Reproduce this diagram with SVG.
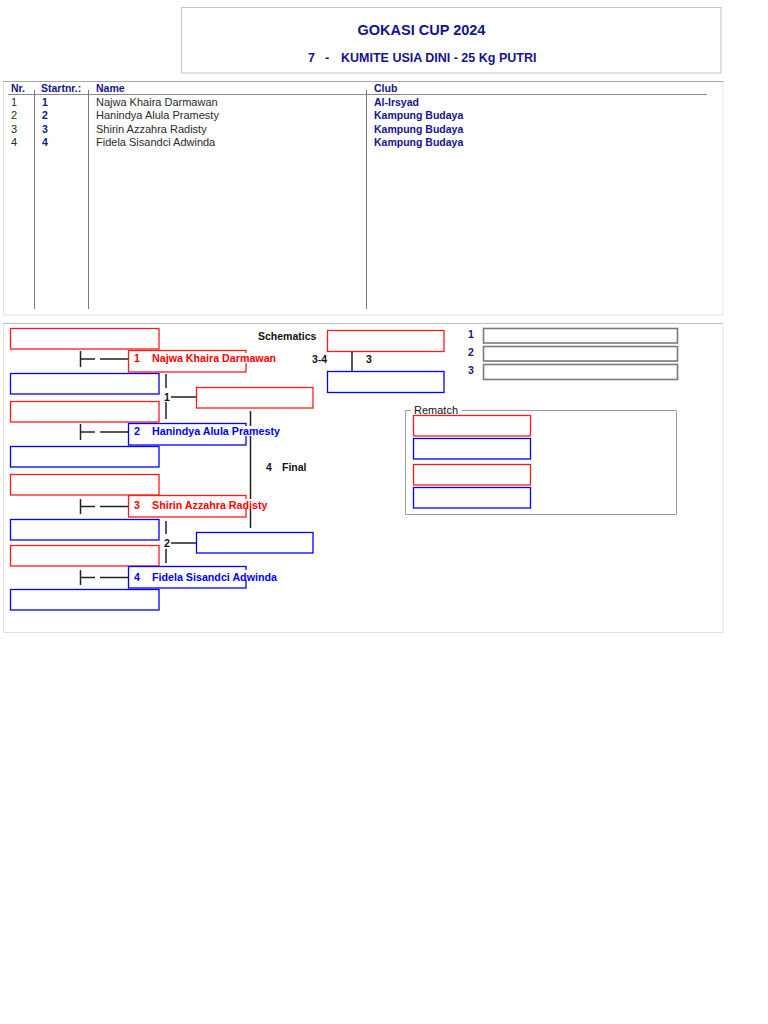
<svg xmlns="http://www.w3.org/2000/svg" width="768" height="1024" viewBox="0 0 768 1024">
<style>
text{font-family:"Liberation Sans",Arial,sans-serif;}
.title{font-size:14.5px;font-weight:bold;fill:#14148c;}
.sub{font-size:12.5px;font-weight:bold;fill:#14148c;}
.th{font-size:10.5px;font-weight:bold;fill:#14148c;}
.td{font-size:11px;fill:#2a2a2a;}
.tb{font-size:10.5px;font-weight:bold;fill:#14148c;}
.lbl{font-size:10.5px;font-weight:bold;fill:#111;}
.nr{font-size:10.7px;font-weight:bold;fill:#ff0000;}
.nb{font-size:10.7px;font-weight:bold;fill:#0000ff;}
.red{fill:#fff;stroke:#ff1a1a;stroke-width:1.3;}
.blue{fill:#fff;stroke:#0000ff;stroke-width:1.3;}
.rank{fill:#fff;stroke:#7a7a7a;stroke-width:1.6;}
.con{fill:none;stroke:#222;stroke-width:1.5;}
.sep{fill:none;stroke:#777;stroke-width:1;}
.wb{fill:#fff;}
</style>

<!-- header -->
<g id="header">
<rect x="181.5" y="7.5" width="539.5" height="65.5" fill="#fff" stroke="#c4c4c4" stroke-width="1"/>
<text class="title" x="421.5" y="35" text-anchor="middle">GOKASI CUP 2024</text>
<text class="sub" x="308" y="62">7</text>
<text class="sub" x="325" y="62">-</text>
<text class="sub" x="341" y="62">KUMITE USIA DINI - 25 Kg PUTRI</text>
</g>

<!-- participant list -->
<g id="list">
<rect x="3.5" y="81.5" width="719.5" height="233.5" fill="#fff" stroke="#e4e4e4" stroke-width="1"/>
<line x1="3" y1="81.5" x2="723" y2="81.5" stroke="#a8a8a8" stroke-width="1.2"/>
<line x1="8" y1="94.5" x2="707" y2="94.5" stroke="#888" stroke-width="1"/>
<line class="sep" x1="34.5" y1="90" x2="34.5" y2="309"/>
<line class="sep" x1="88.5" y1="90" x2="88.5" y2="309"/>
<line class="sep" x1="366.5" y1="90" x2="366.5" y2="309"/>
<text class="th" x="11" y="92">Nr.</text>
<text class="th" x="41" y="92">Startnr.:</text>
<text class="th" x="96" y="92">Name</text>
<text class="th" x="374" y="92">Club</text>
<g id="row1"><text class="td" x="11" y="106">1</text><text class="tb" x="42" y="106">1</text><text class="td" x="96" y="106">Najwa Khaira Darmawan</text><text class="tb" x="374" y="106">Al-Irsyad</text></g>
<g id="row2"><text class="td" x="11" y="119">2</text><text class="tb" x="42" y="119">2</text><text class="td" x="96" y="119">Hanindya Alula Pramesty</text><text class="tb" x="374" y="119">Kampung Budaya</text></g>
<g id="row3"><text class="td" x="11" y="133">3</text><text class="tb" x="42" y="133">3</text><text class="td" x="96" y="133">Shirin Azzahra Radisty</text><text class="tb" x="374" y="133">Kampung Budaya</text></g>
<g id="row4"><text class="td" x="11" y="146">4</text><text class="tb" x="42" y="146">4</text><text class="td" x="96" y="146">Fidela Sisandci Adwinda</text><text class="tb" x="374" y="146">Kampung Budaya</text></g>
</g>

<!-- bracket frame -->
<g id="bracket-frame">
<rect x="3.5" y="323.5" width="719.5" height="309" fill="#fff" stroke="#e0e0e0" stroke-width="1"/>
<line x1="3" y1="323.5" x2="723" y2="323.5" stroke="#bdbdbd" stroke-width="1.2"/>
<text class="lbl" x="258" y="340">Schematics</text>
</g>

<!-- connectors -->
<g id="connectors">
<path class="con" d="M80.5 351V367M80.5 359H95M100 359H128"/>
<path class="con" d="M80.5 424V440M80.5 432H95M100 432H128"/>
<path class="con" d="M80.5 499V514M80.5 506.5H95M100 506.5H128"/>
<path class="con" d="M80.5 570V585M80.5 577.5H95M100 577.5H128"/>
<path class="con" d="M166 374V388M166 402V419M171 397H196"/>
<path class="con" d="M166 521V534M166 549V563M171 543H196"/>
<path class="con" d="M250.5 411V528"/>
<path class="con" d="M352 352V371"/>
</g>

<!-- left column boxes -->
<g id="slot1-red"><rect class="red" x="10.5" y="328.5" width="148.5" height="20.5"/></g>
<g id="slot1-blue"><rect class="blue" x="10.5" y="373.5" width="148.5" height="20.5"/></g>
<g id="slot2-red"><rect class="red" x="10.5" y="401.5" width="148.5" height="20.5"/></g>
<g id="slot2-blue"><rect class="blue" x="10.5" y="446.5" width="148.5" height="20.5"/></g>
<g id="slot3-red"><rect class="red" x="10.5" y="474.5" width="148.5" height="20.5"/></g>
<g id="slot3-blue"><rect class="blue" x="10.5" y="519.5" width="148.5" height="20.5"/></g>
<g id="slot4-red"><rect class="red" x="10.5" y="545.5" width="148.5" height="20.5"/></g>
<g id="slot4-blue"><rect class="blue" x="10.5" y="589.5" width="148.5" height="20.5"/></g>

<!-- competitor name boxes -->
<g id="comp1">
<rect class="red" x="128.5" y="350.5" width="117.5" height="21.5"/>
<rect class="wb" x="133" y="353" width="145" height="10"/>
<text class="nr" x="134" y="362">1</text>
<text class="nr" x="152" y="362">Najwa Khaira Darmawan</text>
</g>
<g id="comp2">
<rect class="blue" x="128.5" y="423.5" width="117.5" height="21.5"/>
<rect class="wb" x="133" y="426" width="148" height="10"/>
<text class="nb" x="134" y="435">2</text>
<text class="nb" x="152" y="435">Hanindya Alula Pramesty</text>
</g>
<g id="comp3">
<rect class="red" x="128.5" y="495.5" width="117.5" height="21.5"/>
<rect class="wb" x="133" y="499" width="136" height="10"/>
<text class="nr" x="134" y="508.5">3</text>
<text class="nr" x="152" y="508.5">Shirin Azzahra Radisty</text>
</g>
<g id="comp4">
<rect class="blue" x="128.5" y="566.5" width="117.5" height="21.5"/>
<rect class="wb" x="133" y="570" width="145" height="10"/>
<text class="nb" x="134" y="580.5">4</text>
<text class="nb" x="152" y="580.5">Fidela Sisandci Adwinda</text>
</g>

<!-- winners -->
<g id="match1">
<text class="lbl" x="164" y="400.5">1</text>
<rect class="red" x="196.5" y="387.5" width="116.5" height="20.5"/>
</g>
<g id="match2">
<text class="lbl" x="164" y="546.5">2</text>
<rect class="blue" x="196.5" y="532.5" width="116.5" height="20.5"/>
</g>
<g id="final">
<text class="lbl" x="266" y="471">4</text>
<text class="lbl" x="282" y="471">Final</text>
</g>

<!-- 3-4 -->
<g id="match34">
<text class="lbl" x="312" y="363">3-4</text>
<text class="lbl" x="366" y="363">3</text>
<rect class="red" x="327.5" y="330.5" width="116.5" height="21"/>
<rect class="blue" x="327.5" y="371.5" width="116.5" height="21"/>
</g>

<!-- ranking -->
<g id="ranking">
<text class="tb" x="468" y="338">1</text>
<text class="tb" x="468" y="356">2</text>
<text class="tb" x="468" y="374">3</text>
<rect class="rank" x="483.5" y="328.5" width="194" height="14.5"/>
<rect class="rank" x="483.5" y="346.5" width="194" height="14.5"/>
<rect class="rank" x="483.5" y="364.5" width="194" height="15"/>
</g>

<!-- rematch -->
<g id="rematch">
<path d="M411 410.5H405.5V514.5H676.5V410.5H462" fill="none" stroke="#9a9a9a" stroke-width="1"/>
<text x="414" y="414" style="font-size:11px;fill:#111;">Rematch</text>
<rect class="red" x="413.5" y="415.5" width="117" height="20.5"/>
<rect class="blue" x="413.5" y="438.5" width="117" height="20.5"/>
<rect class="red" x="413.5" y="464.5" width="117" height="20.5"/>
<rect class="blue" x="413.5" y="487.5" width="117" height="20.5"/>
</g>
</svg>
